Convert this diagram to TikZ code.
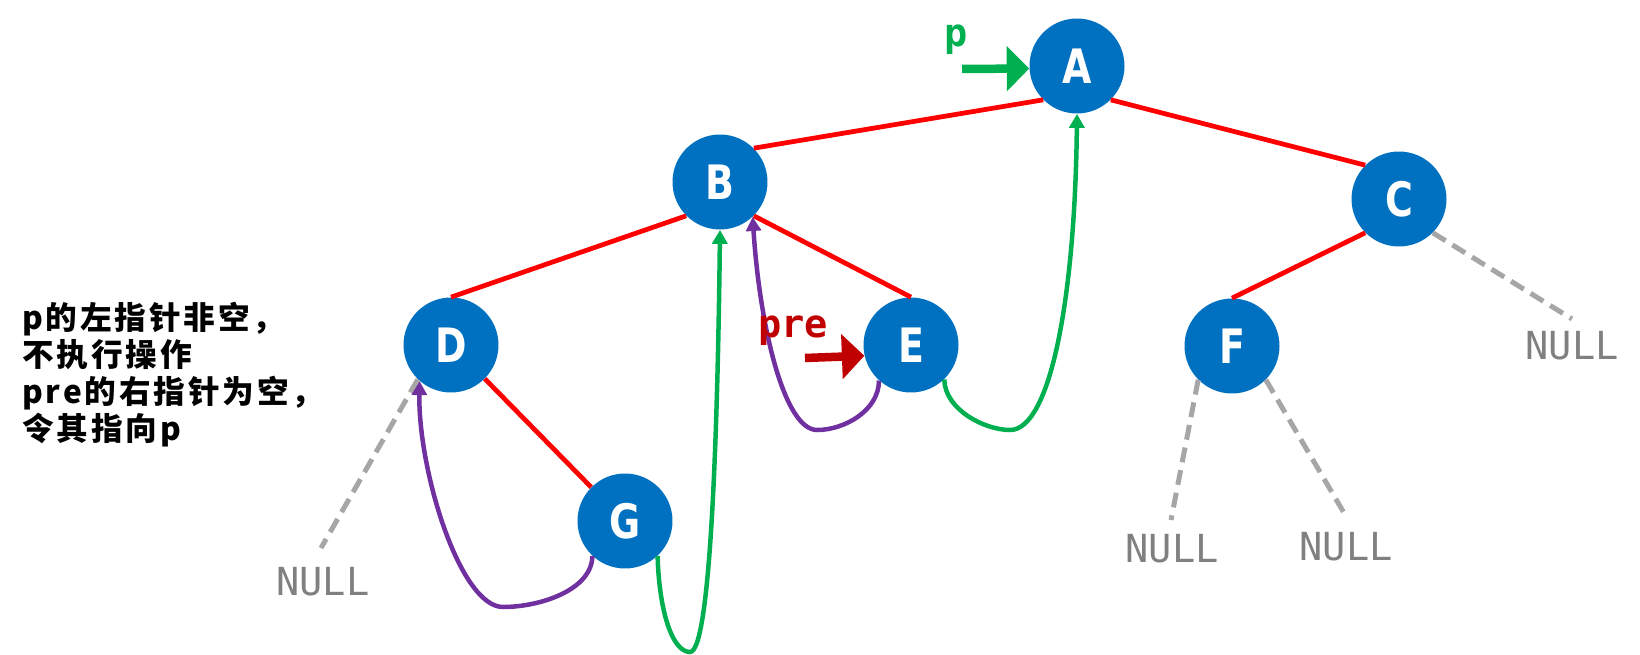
\documentclass[tikz,border=0pt]{standalone}
\usepackage{fontspec}
\usetikzlibrary{arrows.meta}
\newfontfamily\cjk{Noto Sans CJK SC}[LetterSpace=9]
\newfontfamily\letterfont{DejaVu Sans}[FakeStretch=0.8]
\newfontfamily\codefont{DejaVu Sans Mono}
\definecolor{nodeblue}{RGB}{0,112,192}
\definecolor{edgered}{RGB}{255,0,0}
\definecolor{nullline}{RGB}{166,166,166}
\definecolor{nulltext}{RGB}{128,128,128}
\definecolor{thpurple}{RGB}{112,48,160}
\definecolor{thgreen}{RGB}{0,176,80}
\definecolor{predred}{RGB}{192,0,0}
\begin{document}
\begin{tikzpicture}[x=0.02cm,y=-0.02cm,
  tn/.style={circle, fill=nodeblue, minimum size=1.9cm, inner sep=0pt, text=white,
    font=\letterfont\bfseries\fontsize{27}{30}\selectfont},
  edge/.style={draw=edgered, line width=0.095cm},
  nulledge/.style={draw=nullline, line width=0.1cm, dash pattern=on 0.3cm off 0.16cm},
  nulllabel/.style={text=nulltext, inner sep=0pt, font=\codefont\fontsize{22}{24}\selectfont},
  thread/.style={line width=0.09cm, -{Triangle[length=0.28cm,width=0.3cm]}},
  ptr/.style={line width=0.17cm, -{Triangle[length=0.45cm,width=0.88cm]}},
  ptrlabel/.style={inner sep=0pt, font=\codefont\bfseries\fontsize{22}{24}\selectfont},
  note/.style={inner sep=0pt, anchor=north west, align=left,
    font=\cjk\bfseries\fontsize{18}{21}\selectfont}
]
\useasboundingbox (0,0) rectangle (1640,655);

% nodes
\node[tn] (A) at (1077,66) {A};
\node[tn] (B) at (720,182) {B};
\node[tn] (C) at (1399,199) {C};
\node[tn] (D) at (451,345) {D};
\node[tn] (E) at (911,345) {E};
\node[tn] (F) at (1232,346) {F};
\node[tn] (G) at (625,521) {G};

% tree edges
\draw[edge] (B.45) -- (A.225);
\draw[edge] (A.315) -- (C.135);
\draw[edge] (B.225) -- (D.north);
\draw[edge] (B.315) -- (E.north);
\draw[edge] (C.225) -- (F.north);
\draw[edge] (D.315) -- (G.135);

% NULL children
\coordinate (nD) at (321,548);
\coordinate (nC) at (1572,319);
\coordinate (nFl) at (1171,520);
\coordinate (nFr) at (1347,518);
\draw[nulledge] (D.226) -- (nD);
\draw[nulledge] (C.315) -- (nC);
\draw[nulledge] (F.225) -- (nFl);
\draw[nulledge] (F.315) -- (nFr);
\node[nulllabel] (tD) at (323,582) {NULL};
\node[nulllabel] (tC) at (1572,346) {NULL};
\node[nulllabel] (tFl) at (1172,549) {NULL};
\node[nulllabel] (tFr) at (1346,547) {NULL};

% threads
\draw[thread, draw=thpurple] (G.227) .. controls (592,590) and (540,607) .. (503,607)
  .. controls (460,607) and (418,470) .. (D.229);
\draw[thread, draw=thgreen] (G.313) .. controls (659,610) and (672,652) .. (690,652)
  .. controls (712,652) and (718,400) .. (B.south);
\draw[thread, draw=thpurple] (E.228) .. controls (879,410) and (845,430) .. (817,430)
  .. controls (785,430) and (760,330) .. (B.313);
\draw[thread, draw=thgreen] (E.314) .. controls (945,410) and (985,430) .. (1010,430)
  .. controls (1050,430) and (1075,300) .. (A.south);

% pointers
\coordinate (ps) at (962,69);
\coordinate (pres) at (805,358);
\draw[ptr, draw=thgreen] (ps) -- (A.183);
\draw[ptr, draw=predred] (pres) -- (E.193);
\node[ptrlabel, text=thgreen] (plab) at (956,40) {p};
\node[ptrlabel, text=predred] (prelab) at (793,331) {pre};

% note
\node[note] (txt) at (22,302) {p的左指针非空，\\不执行操作\\pre的右指针为空，\\令其指向p};
\end{tikzpicture}
\end{document}
